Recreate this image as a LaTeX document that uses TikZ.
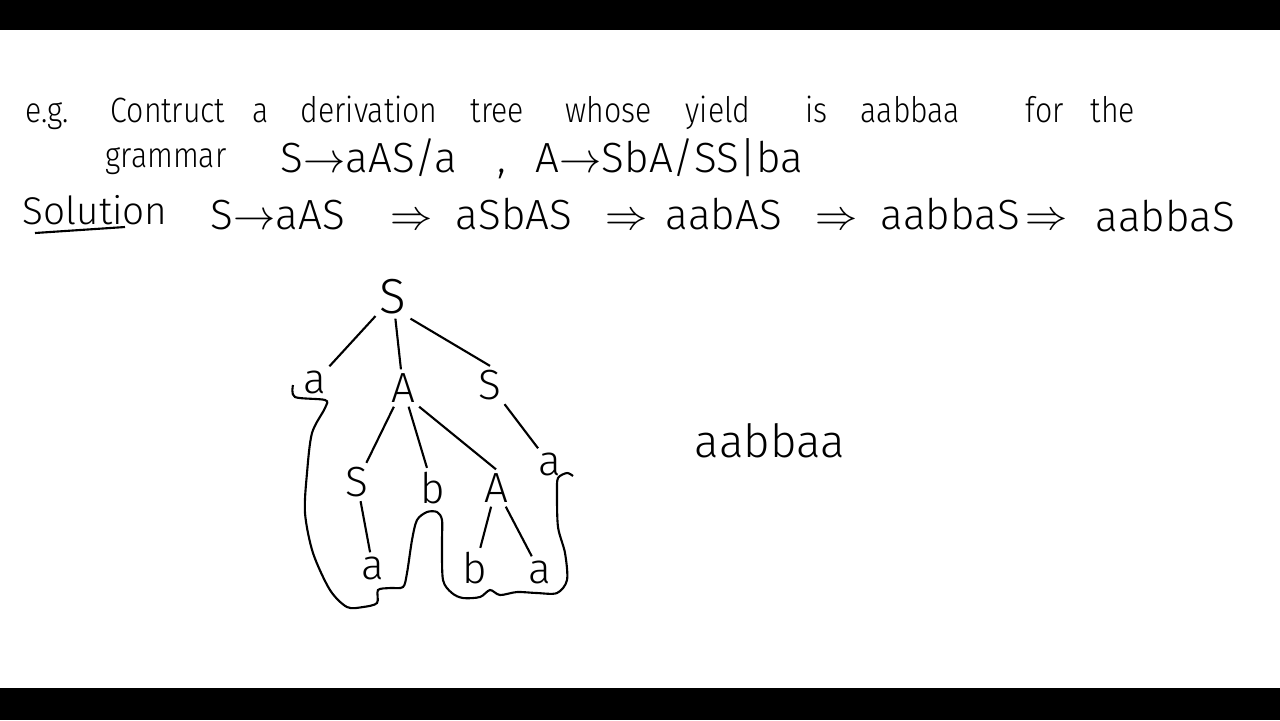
\documentclass[tikz,border=0pt]{standalone}
\usepackage{fontspec}
\setmainfont{Fira Sans Light}
\newfontfamily\narrowhand{Fira Sans Light}[FakeStretch=0.86]
\begin{document}
\begin{tikzpicture}[x=0.01cm,y=-0.01cm,
    lone/.style={anchor=base west,inner sep=0pt,font=\narrowhand\fontsize{10}{12}\selectfont},
    ltwo/.style={anchor=base west,inner sep=0pt,font=\fontsize{12}{14}\selectfont},
    lthree/.style={anchor=base west,inner sep=0pt,font=\fontsize{12}{14}\selectfont},
    root/.style={inner sep=1pt,font=\fontsize{14}{16}\selectfont},
    nt/.style={inner sep=1pt,font=\fontsize{12}{14}\selectfont},
    lf/.style={inner sep=1pt,font=\fontsize{12}{14}\selectfont},
    edge/.style={line width=0.6pt}]
    \useasboundingbox (0,0) rectangle (1280,720);
    \fill[black] (0,0) rectangle (1280,30);
    \fill[black] (0,688) rectangle (1280,720);
    % question
    \node[lone] (q1) at (25,122) {e.g.};
    \node[lone] (q2) at (110,122) {Contruct};
    \node[lone] (q3) at (252,122) {a};
    \node[lone] (q4) at (300,122) {derivation};
    \node[lone] (q5) at (470,122) {tree};
    \node[lone] (q6) at (565,122) {whose};
    \node[lone] (q7) at (685,122) {yield};
    \node[lone] (q8) at (805,122) {is};
    \node[lone] (q9) at (860,122) {aabbaa};
    \node[lone] (q10) at (1025,122) {for};
    \node[lone] (q11) at (1090,122) {the};
    \node[lone] (g1) at (105,167) {grammar};
    \node[ltwo] (g2) at (280,172) {S$\rightarrow$aAS/a};
    \node[ltwo] (g3) at (497,172) {,};
    \node[ltwo] (g4) at (535,172) {A$\rightarrow$SbA/SS|ba};
    % solution
    \node[lone,font=\fontsize{11}{13}\selectfont] (sol) at (22,224) {Solution};
    \draw[edge] (35,233) -- (125,227);
    \node[lthree] (d1) at (210,229) {S$\rightarrow$aAS};
    \node[lthree] (d2) at (390,229) {$\Rightarrow$};
    \node[lthree] (d3) at (455,229) {aSbAS};
    \node[lthree] (d4) at (605,229) {$\Rightarrow$};
    \node[lthree] (d5) at (665,229) {aabAS};
    \node[lthree] (d6) at (815,229) {$\Rightarrow$};
    \node[lthree] (d7) at (880,229) {aabbaS};
    \node[lthree] (d8) at (1025,229) {$\Rightarrow$};
    \node[lthree] (d9) at (1095,231) {aabbaS};
    % tree
    \node[root] (s0) at (393,297) {S};
    \node[lf] (a1) at (315,382) {a};
    \node[nt] (A1) at (403,388) {A};
    \node[nt] (s1) at (490,385) {S};
    \node[nt] (s2) at (357,482) {S};
    \node[lf] (b1) at (433,488) {b};
    \node[nt] (A2) at (496,488) {A};
    \node[lf] (a2) at (550,464) {a};
    \node[lf] (a3) at (373,568) {a};
    \node[lf] (b2) at (475,568) {b};
    \node[lf] (a4) at (540,572) {a};
    \draw[edge] (s0) -- (a1);
    \draw[edge] (s0) -- (A1);
    \draw[edge] (s0.south east) -- (s1.north);
    \draw[edge] (A1) -- (s2);
    \draw[edge] (A1) -- (b1);
    \draw[edge] (A1.south east) -- (A2.north);
    \draw[edge] (s1) -- (a2);
    \draw[edge] (s2) -- (a3);
    \draw[edge] (A2) -- (b2);
    \draw[edge] (A2) -- (a4);
    % yield curve
    \draw[edge] plot[smooth,tension=0.5] coordinates {(293,385) (295,397) (325,400) (325,408)
        (312,433) (307,473) (305,513) (313,553) (330,590) (347,607) (363,607) (377,603)
        (378,590) (390,588) (403,587) (407,573) (412,540) (417,520) (427,512) (437,512)
        (442,520) (442,543) (443,580) (452,593) (463,598) (480,597) (490,590) (500,595)
        (517,592) (537,593) (557,593) (567,580) (565,553) (558,527) (557,493) (558,478)
        (567,473) (573,476)};
    \node[lf,font=\fontsize{13}{15}\selectfont] (yld) at (770,441) {aabbaa};
\end{tikzpicture}
\end{document}
